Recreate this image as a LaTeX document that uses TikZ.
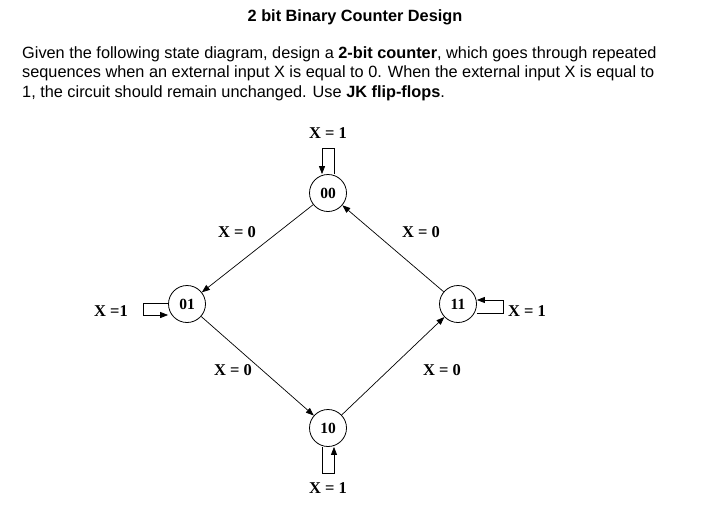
\documentclass[tikz,border=0pt]{standalone}
\usepackage{fontspec}
\setmainfont{Liberation Serif}
\newfontfamily\arialf{Liberation Sans}
\usetikzlibrary{arrows.meta}
\begin{document}
\begin{tikzpicture}[x=1pt,y=-1pt,
  st/.style={draw,circle,line width=0.8pt,minimum size=37pt,inner sep=0pt,font=\bfseries\fontsize{15.5pt}{16pt}\selectfont},
  lbl/.style={font=\bfseries\fontsize{16.5pt}{17pt}\selectfont,inner sep=0pt},
  ed/.style={-{Triangle[length=8pt,width=6pt]},line width=0.7pt},
  para/.style={font=\arialf\fontsize{16.3pt}{19.5pt}\selectfont,inner sep=0pt,anchor=north west,align=left}]
\useasboundingbox (0,0) rectangle (727,514);
\node[font=\arialf\bfseries\fontsize{16.3pt}{18pt}\selectfont] (title) at (355,17) {2 bit Binary Counter Design};
\node[para] (p) at (22,46) {Given the following state diagram, design a \textbf{2-bit counter}, which goes through repeated\\sequences when an external input X is equal to 0. When the external input X is equal to\\1, the circuit should remain unchanged. Use \textbf{JK flip-flops}.};
\node[st] (s00) at (328,193) {00};
\node[st] (s01) at (187,304) {01};
\node[st] (s11) at (458,304) {11};
\node[st] (s10) at (328,428) {10};
\draw[ed] (s00) -- (s01);
\draw[ed] (s01) -- (s10);
\draw[ed] (s10) -- (s11);
\draw[ed] (s11) -- (s00);
% self loops
\draw[ed] ([xshift=6pt]s00.north) -- ++(0,-26) -| ([xshift=-6pt]s00.north);
\draw[ed] ([xshift=-6pt]s10.south) -- ++(0,26) -| ([xshift=6pt]s10.south);
\draw[ed] ([yshift=1pt]s01.west) -- ++(-25,0) |- ([yshift=-11pt]s01.west);
\draw[ed] ([yshift=-9pt]s11.east) -- ++(26,0) |- ([yshift=4pt]s11.east);
\node[lbl] (l1) at (328,133) {X = 1};
\node[lbl] (l2) at (237,232) {X = 0};
\node[lbl] (l3) at (421,232) {X = 0};
\node[lbl] (l4) at (233,370) {X = 0};
\node[lbl] (l5) at (442,370) {X = 0};
\node[lbl] (l6) at (111,311) {X =1};
\node[lbl] (l7) at (527,311) {X = 1};
\node[lbl] (l8) at (328,488) {X = 1};
\end{tikzpicture}
\end{document}
